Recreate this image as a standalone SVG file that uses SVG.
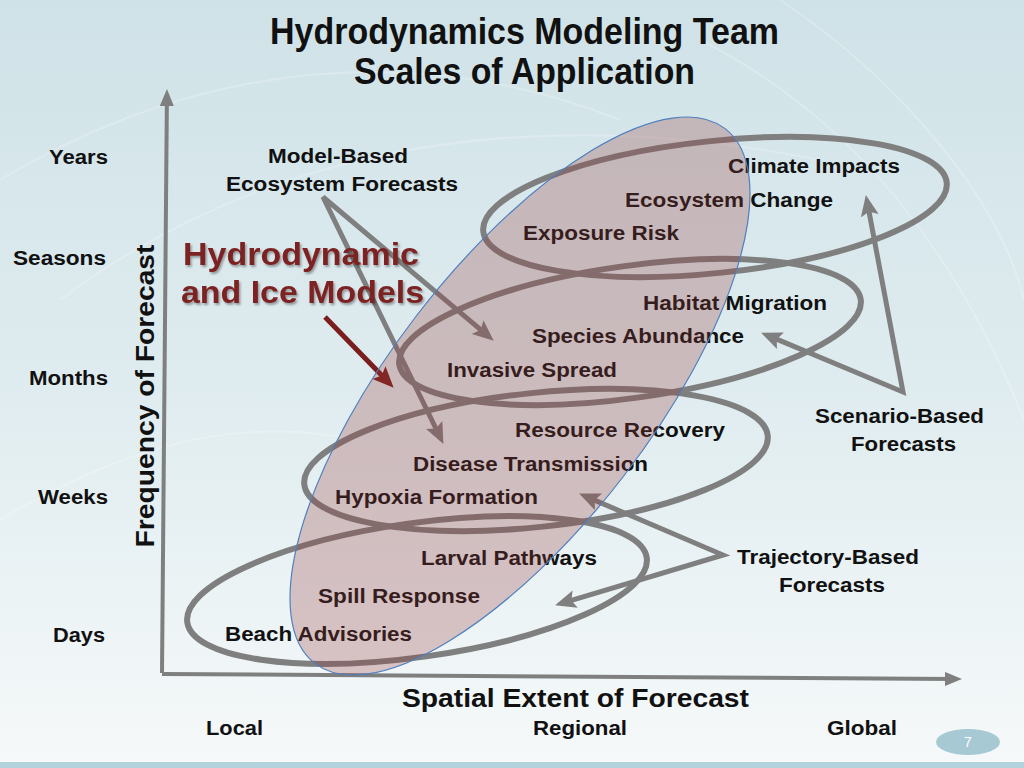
<svg xmlns="http://www.w3.org/2000/svg" width="1024" height="768" viewBox="0 0 1024 768">
<defs>
  <linearGradient id="bg" x1="0" y1="0" x2="0" y2="1">
    <stop offset="0" stop-color="#cfe2e7"/>
    <stop offset="0.55" stop-color="#e1edf0"/>
    <stop offset="1" stop-color="#f6f9fa"/>
  </linearGradient>
  <marker id="ah" markerUnits="userSpaceOnUse" markerWidth="22" markerHeight="20" refX="10" refY="9" orient="auto-start-reverse" viewBox="0 0 22 18">
    <path d="M0,0 L21,9 L0,18 L4,9 z" fill="#7f7f7f"/>
  </marker>
  <marker id="ahr" markerUnits="userSpaceOnUse" markerWidth="22" markerHeight="20" refX="10" refY="9" orient="auto" viewBox="0 0 22 18">
    <path d="M0,0 L21,9 L0,18 L4,9 z" fill="#7a1e1e"/>
  </marker>
  <marker id="axh" markerUnits="userSpaceOnUse" markerWidth="18" markerHeight="14" refX="8" refY="7" orient="auto" viewBox="0 0 18 14">
    <path d="M0,0 L17,7 L0,14 z" fill="#7f7f7f"/>
  </marker>
  <filter id="sh" x="-10%" y="-20%" width="120%" height="150%">
    <feDropShadow dx="1.5" dy="2" stdDeviation="1.2" flood-color="#000" flood-opacity="0.35"/>
  </filter>
  <style>
    .t{font-family:"Liberation Sans",Arial,sans-serif;font-weight:bold;fill:#111;font-size:20px}
    .title{font-size:36px}
    .ax{font-size:26px}
    .red{font-size:32px;fill:#7b2222}
    .ring{fill:none;stroke:#7f7f7f;stroke-width:6}
    .con{fill:none;stroke:#7f7f7f;stroke-width:5}
    .axis{fill:none;stroke:#7f7f7f;stroke-width:4}
  </style>
</defs>

<rect width="1024" height="768" fill="url(#bg)"/>
<g fill="none" stroke="#ffffff" stroke-opacity="0.22" stroke-width="2">
  <path d="M0,180 C200,60 420,40 620,120"/>
  <path d="M60,300 C260,150 520,100 820,160"/>
  <path d="M700,40 C860,120 960,260 1024,420"/>
  <path d="M780,0 C900,80 1000,200 1024,300"/>
  <path d="M0,520 C150,430 260,420 360,440"/>
</g>
<rect x="0" y="762" width="1024" height="6" fill="#b2d3dc"/>

<g id="title">
  <text class="t title" x="270" y="44" textLength="509" lengthAdjust="spacingAndGlyphs">Hydrodynamics Modeling Team</text>
  <text class="t title" x="354" y="84" textLength="341" lengthAdjust="spacingAndGlyphs">Scales of Application</text>
</g>

<g id="axes">
  <path class="axis" d="M162,673 L166.9,98" marker-end="url(#axh)"/>
  <path class="axis" d="M162,674 L953,679" marker-end="url(#axh)"/>
</g>

<g id="axis-labels">
  <text class="t" x="49" y="164" textLength="59" lengthAdjust="spacingAndGlyphs">Years</text>
  <text class="t" x="13" y="265" textLength="93" lengthAdjust="spacingAndGlyphs">Seasons</text>
  <text class="t" x="29" y="385" textLength="79" lengthAdjust="spacingAndGlyphs">Months</text>
  <text class="t" x="38" y="504" textLength="70" lengthAdjust="spacingAndGlyphs">Weeks</text>
  <text class="t" x="53" y="642" textLength="52" lengthAdjust="spacingAndGlyphs">Days</text>
  <text class="t ax" transform="translate(154,396) rotate(-90)" text-anchor="middle" textLength="303" lengthAdjust="spacingAndGlyphs">Frequency of Forecast</text>
  <text class="t ax" x="402" y="707" textLength="347" lengthAdjust="spacingAndGlyphs">Spatial Extent of Forecast</text>
  <text class="t" x="206" y="735" textLength="57" lengthAdjust="spacingAndGlyphs">Local</text>
  <text class="t" x="533" y="735" textLength="94" lengthAdjust="spacingAndGlyphs">Regional</text>
  <text class="t" x="827" y="735" textLength="70" lengthAdjust="spacingAndGlyphs">Global</text>
</g>

<g id="rings">
  <ellipse id="ring-years" class="ring" cx="715" cy="207" rx="233" ry="66" transform="rotate(-6 715 207)"/>
  <ellipse id="ring-seasons" class="ring" cx="630" cy="332" rx="233" ry="66" transform="rotate(-8 630 332)"/>
  <ellipse id="ring-weeks" class="ring" cx="536" cy="460" rx="233" ry="67" transform="rotate(-6 536 460)"/>
  <ellipse id="ring-days" class="ring" cx="417" cy="590" rx="232" ry="67" transform="rotate(-8 417 590)"/>
</g>

<g id="connectors">
  <path class="con" d="M485.3,333.6 L323,197 L438.6,434" marker-start="url(#ah)" marker-end="url(#ah)"/>
  <path class="con" d="M867.9,205.8 L903,392 L771.2,336.9" marker-start="url(#ah)" marker-end="url(#ah)"/>
  <path class="con" d="M589.2,497.9 L723,555 L565.6,602.1" marker-start="url(#ah)" marker-end="url(#ah)"/>
  <path d="M325,317 L386,379.8" fill="none" stroke="#7a1e1e" stroke-width="5" marker-end="url(#ahr)"/>
</g>

<g id="node-model-based">
  <text class="t" x="268" y="163" textLength="140" lengthAdjust="spacingAndGlyphs">Model-Based</text>
  <text class="t" x="226" y="191" textLength="232" lengthAdjust="spacingAndGlyphs">Ecosystem Forecasts</text>
</g>
<g id="node-hydrodynamic" filter="url(#sh)">
  <text class="t red" x="183" y="265" textLength="236" lengthAdjust="spacingAndGlyphs">Hydrodynamic</text>
  <text class="t red" x="181" y="303" textLength="243" lengthAdjust="spacingAndGlyphs">and Ice Models</text>
</g>
<g id="node-scenario">
  <text class="t" x="815" y="423" textLength="169" lengthAdjust="spacingAndGlyphs">Scenario-Based</text>
  <text class="t" x="851" y="451" textLength="105" lengthAdjust="spacingAndGlyphs">Forecasts</text>
</g>
<g id="node-trajectory">
  <text class="t" x="737" y="564" textLength="182" lengthAdjust="spacingAndGlyphs">Trajectory-Based</text>
  <text class="t" x="779" y="592" textLength="106" lengthAdjust="spacingAndGlyphs">Forecasts</text>
</g>
<g id="node-climate"><text class="t" x="728" y="173" textLength="172" lengthAdjust="spacingAndGlyphs">Climate Impacts</text></g>
<g id="node-ecosystem-change"><text class="t" x="625" y="207" textLength="208" lengthAdjust="spacingAndGlyphs">Ecosystem Change</text></g>
<g id="node-exposure"><text class="t" x="523" y="240" textLength="156" lengthAdjust="spacingAndGlyphs">Exposure Risk</text></g>
<g id="node-habitat"><text class="t" x="643" y="310" textLength="184" lengthAdjust="spacingAndGlyphs">Habitat Migration</text></g>
<g id="node-species"><text class="t" x="532" y="343" textLength="212" lengthAdjust="spacingAndGlyphs">Species Abundance</text></g>
<g id="node-invasive"><text class="t" x="447" y="377" textLength="170" lengthAdjust="spacingAndGlyphs">Invasive Spread</text></g>
<g id="node-resource"><text class="t" x="515" y="437" textLength="210" lengthAdjust="spacingAndGlyphs">Resource Recovery</text></g>
<g id="node-disease"><text class="t" x="413" y="471" textLength="235" lengthAdjust="spacingAndGlyphs">Disease Transmission</text></g>
<g id="node-hypoxia"><text class="t" x="335" y="504" textLength="203" lengthAdjust="spacingAndGlyphs">Hypoxia Formation</text></g>
<g id="node-larval"><text class="t" x="421" y="565" textLength="176" lengthAdjust="spacingAndGlyphs">Larval Pathways</text></g>
<g id="node-spill"><text class="t" x="318" y="603" textLength="162" lengthAdjust="spacingAndGlyphs">Spill Response</text></g>
<g id="node-beach"><text class="t" x="225" y="641" textLength="187" lengthAdjust="spacingAndGlyphs">Beach Advisories</text></g>

<g id="hydro-envelope">
  <ellipse cx="520" cy="396" rx="337" ry="131" transform="rotate(-52.5 520 396)" fill="#963c3c" fill-opacity="0.28" stroke="#4f7fbf" stroke-width="1.2"/>
</g>

<g id="page-number">
  <ellipse cx="968" cy="742" rx="32" ry="13" fill="#a6c9d3"/>
  <text x="968" y="747" text-anchor="middle" font-family="Liberation Sans, Arial, sans-serif" font-size="14" fill="#ffffff">7</text>
</g>
</svg>
